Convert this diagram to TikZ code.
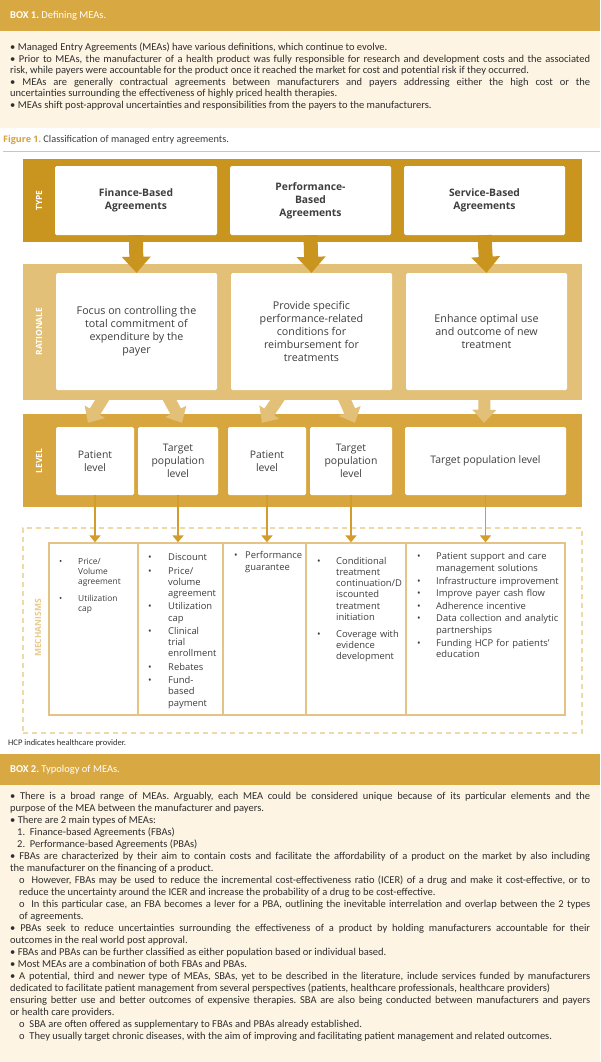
\documentclass[tikz,border=0pt]{standalone}
\usepackage{fontspec}
\setmainfont{Carlito}
\newfontfamily\figfont{Open Sans}
\usetikzlibrary{arrows.meta,calc}
\definecolor{hdr}{HTML}{D8A843}
\definecolor{cream}{HTML}{FDF4E3}
\definecolor{typegold}{HTML}{C9951F}
\definecolor{ratgold}{HTML}{E2C077}
\definecolor{levgold}{HTML}{D8A63F}
\definecolor{levarrow}{HTML}{D39C2C}
\definecolor{dashcol}{HTML}{EFD9A7}
\definecolor{tabcol}{HTML}{E3C486}
\definecolor{mechlab}{HTML}{E8CB8E}
\definecolor{figtext}{HTML}{3E3E3E}
\definecolor{boxtext}{HTML}{2E2E2E}
\definecolor{rulecol}{HTML}{E6C37F}
\definecolor{figgold}{HTML}{D9A23A}
% #1 colour, #2 start, #3 tip, #4 shaft half width, #5 head half width, #6 head length
\newcommand\blockarrow[6]{%
  \coordinate (ba-h) at ($(#3)!#6!(#2)$);
  \fill[#1] ($(#2)!#4!90:(#3)$) -- ($(ba-h)!#4!90:(#3)$) -- ($(ba-h)!#5!90:(#3)$) -- (#3)
    -- ($(ba-h)!#5!-90:(#3)$) -- ($(ba-h)!#4!-90:(#3)$) -- ($(#2)!#4!-90:(#3)$) -- cycle;}
\newcommand\mitem[2]{\par\hangindent=#1\hangafter=1\noindent\makebox[#1][l]{\textbullet}#2\par}
\newcommand\boxfont{\fontsize{10.5}{11.5}\selectfont}
\newcommand\boxfontb{\fontsize{10.5}{12}\selectfont}
\begin{document}
\frenchspacing
\begin{tikzpicture}[x=1pt,y=-1pt,
  band/.style={inner sep=0, anchor=north west, outer sep=0},
  wbox/.style={fill=white, rounded corners=1.5pt, inner sep=1pt, align=center, text=figtext},
  typetext/.style={font=\figfont\bfseries\fontsize{10.3}{12.8}\selectfont},
  rattext/.style={font=\figfont\fontsize{10.7}{13}\selectfont},
  levtext/.style={font=\figfont\fontsize{10.4}{13.2}\selectfont},
  vlabel/.style={rotate=90, inner sep=0, font=\figfont\bfseries\fontsize{8.5}{10}\selectfont, text=white},
  tabcell/.style={draw=tabcol, line width=1.3pt, inner sep=0, minimum height=172pt},
  mtext/.style={anchor=north west, inner sep=0, text width=160pt, align=left, text=figtext},
  levarr/.style={draw=levarrow, line width=1.7pt, -{Triangle[width=11pt,length=7pt]}},
  hdrtext/.style={anchor=west, inner sep=0, text=white, font=\boxfont},
  bodytext/.style={anchor=north west, inner sep=0, text width=580pt, align=justify, text=boxtext}
]
\useasboundingbox (0,0) rectangle (600,1062);
\fill[white] (0,0) rectangle (600,1062);

% ---------- BOX 1 ----------
\node[band, fill=hdr, minimum width=600pt, minimum height=31pt] (b1head) at (0,0) {};
\node[band, fill=cream, minimum width=600pt, minimum height=97pt] (b1body) at (0,31) {};
\node[hdrtext] (b1title) at (10,15.5) {\textbf{BOX 1.} Defining MEAs.};
\node[bodytext, font=\boxfont] (b1text) at (10,43) {%
\textbullet\ Managed Entry Agreements (MEAs) have various definitions, which continue to evolve.\par
\textbullet\ Prior to MEAs, the manufacturer of a health product was fully responsible for research and development costs and the associated\linebreak
risk, while payers were accountable for the product once it reached the market for cost and potential risk if they occurred.\par
\textbullet\ MEAs are generally contractual agreements between manufacturers and payers addressing either the high cost or the\linebreak
uncertainties surrounding the effectiveness of highly priced health therapies.\par
\textbullet\ MEAs shift post-approval uncertainties and responsibilities from the payers to the manufacturers.};

% ---------- Figure caption ----------
\node[anchor=west, inner sep=0, text=figtext, font=\fontsize{10.3}{12}\selectfont] (caption) at (3,140)
  {{\figfont\bfseries\fontsize{9}{10}\selectfont\color{figgold}Figure 1.}\ Classification of managed entry agreements.};
\draw[rulecol, line width=1pt] (3,151) -- (600,151);

% ---------- TYPE ----------
\node[band, fill=typegold, minimum width=559pt, minimum height=83pt] (typepanel) at (23,159) {};
\node[vlabel] (typelab) at (39,200.5) {TYPE};
\node[wbox, typetext, minimum width=162pt, minimum height=69pt] (fba) at (136,200.5) {Finance-Based\\Agreements};
\node[wbox, typetext, minimum width=161pt, minimum height=69pt] (pba) at (310.5,200.5) {Performance-\\Based\\Agreements};
\node[wbox, typetext, minimum width=161pt, minimum height=69pt] (sba) at (484.5,200.5) {Service-Based\\Agreements};

% ---------- RATIONALE ----------
\node[band, fill=ratgold, minimum width=559pt, minimum height=136pt] (ratpanel) at (23,264) {};
\node[vlabel] (ratlab) at (39,331.5) {RATIONALE};
\node[wbox, rattext, minimum width=161pt, minimum height=117pt] (rfba) at (136.5,331.5)
  {Focus on controlling the\\total commitment of\\expenditure by the\\payer};
\node[wbox, rattext, minimum width=161pt, minimum height=117pt] (rpba) at (311.5,331.5)
  {Provide specific\\performance-related\\conditions for\\reimbursement for\\treatments};
\node[wbox, rattext, minimum width=161pt, minimum height=117pt] (rsba) at (486.5,331.5)
  {Enhance optimal use\\and outcome of new\\treatment};

% ---------- LEVEL ----------
\node[band, fill=levgold, minimum width=559pt, minimum height=93pt] (levpanel) at (23,414) {};
\node[vlabel] (levlab) at (39,461) {LEVEL};
\node[wbox, levtext, minimum width=78pt, minimum height=68pt] (lp1) at (95,461) {Patient\\level};
\node[wbox, levtext, minimum width=80pt, minimum height=68pt] (lt1) at (178,461) {Target\\population\\level};
\node[wbox, levtext, minimum width=78pt, minimum height=68pt] (lp2) at (267,461) {Patient\\level};
\node[wbox, levtext, minimum width=82pt, minimum height=68pt] (lt2) at (351,461) {Target\\population\\level};
\node[wbox, levtext, minimum width=161pt, minimum height=68pt] (lt3) at (485.5,461) {Target population level};

% ---------- MECHANISMS ----------
\node[draw=dashcol, dash pattern=on 5pt off 4pt, line width=1.3pt, inner sep=0,
  minimum width=559pt, minimum height=205pt] (mechpanel) at (302.5,630.5) {};
\node[vlabel, text=mechlab] (mechlab) at (38,628) {MECHANISMS};
\node[tabcell, minimum width=89pt] (m1) at (93.5,629) {};
\node[tabcell, minimum width=85pt] (m2) at (180.5,629) {};
\node[tabcell, minimum width=83pt] (m3) at (264.5,629) {};
\node[tabcell, minimum width=100pt] (m4) at (356,629) {};
\node[tabcell, minimum width=159pt] (m5) at (485.5,629) {};

\node[mtext, font=\figfont\fontsize{8.4}{10}\selectfont] (m1t) at (59,548) {\setlength{\parskip}{6.5pt}%
\mitem{19pt}{Price/\newline Volume\newline agreement}%
\mitem{19pt}{Utilization\newline cap}};
\node[mtext, font=\figfont\fontsize{9.4}{11.2}\selectfont] (m2t) at (148,547) {\setlength{\parskip}{2.2pt}%
\mitem{20pt}{Discount}%
\mitem{20pt}{Price/\newline volume\newline agreement}%
\mitem{20pt}{Utilization\newline cap}%
\mitem{20pt}{Clinical\newline trial\newline enrollment}%
\mitem{20pt}{Rebates}%
\mitem{20pt}{Fund-\newline based\newline payment}};
\node[mtext, font=\figfont\fontsize{9.4}{11.5}\selectfont] (m3t) at (234,547) {%
\mitem{11pt}{Performance\newline guarantee}};
\node[mtext, font=\figfont\fontsize{9.4}{11.3}\selectfont] (m4t) at (317,547) {\setlength{\parskip}{5.5pt}%
\mitem{19pt}{Conditional\newline treatment\newline continuation/D\newline iscounted\newline treatment\newline initiation}%
\mitem{19pt}{Coverage with\newline evidence\newline development}};
\node[mtext, font=\figfont\fontsize{9.4}{11.6}\selectfont] (m5t) at (417,547) {\setlength{\parskip}{1pt}%
\mitem{19pt}{Patient support and care\newline management solutions}%
\mitem{19pt}{Infrastructure improvement}%
\mitem{19pt}{Improve payer cash flow}%
\mitem{19pt}{Adherence incentive}%
\mitem{19pt}{Data collection and analytic\newline partnerships}%
\mitem{19pt}{Funding HCP for patients’\newline education}};

% ---------- connectors ----------
\blockarrow{typegold}{fba.south}{rfba.north}{7pt}{14.5pt}{16pt}
\blockarrow{typegold}{pba.south}{rpba.north}{7pt}{14.5pt}{16pt}
\blockarrow{typegold}{sba.south}{rsba.north}{7pt}{14.5pt}{16pt}

\coordinate (ra1s) at ($(rfba.south)+(-32,6)$);
\coordinate (ra2s) at ($(rfba.south)+(31,6)$);
\coordinate (ra3s) at ($(rpba.south)+(-31.5,6)$);
\coordinate (ra4s) at ($(rpba.south)+(31.5,6)$);
\coordinate (ra5s) at ($(rsba.south)+(-2,6)$);
\coordinate (ra1e) at ($(lp1.north)+(-7,-4)$);
\coordinate (ra2e) at ($(lt1.north)+(4,-4)$);
\coordinate (ra3e) at ($(lp2.north)+(-5,-4)$);
\coordinate (ra4e) at ($(lt2.north)+(4,-4)$);
\coordinate (ra5e) at ($(lt3.north)+(-1.5,-4)$);
\blockarrow{ratgold}{ra1s}{ra1e}{6pt}{12pt}{13pt}
\blockarrow{ratgold}{ra2s}{ra2e}{6pt}{12pt}{13pt}
\blockarrow{ratgold}{ra3s}{ra3e}{6pt}{12pt}{13pt}
\blockarrow{ratgold}{ra4s}{ra4e}{6pt}{12pt}{13pt}
\blockarrow{ratgold}{ra5s}{ra5e}{6pt}{12pt}{13pt}

\draw[levarr] (lp1.south) -- (lp1.south |- m1.north);
\draw[levarr] (lt1.south) -- (lt1.south |- m2.north);
\draw[levarr] (lp2.south) -- (lp2.south |- m3.north);
\draw[levarr] (lt2.south) -- (lt2.south |- m4.north);
\draw[levarr] (lt3.south) -- (lt3.south |- m5.north);

\node[anchor=west, inner sep=0, text=boxtext, font=\fontsize{8.5}{10}\selectfont] (hcp) at (8,743) {HCP indicates healthcare provider.};

% ---------- BOX 2 ----------
\node[band, fill=hdr, minimum width=600pt, minimum height=31pt] (b2head) at (0,754) {};
\node[band, fill=cream, minimum width=600pt, minimum height=277pt] (b2body) at (0,785) {};
\node[hdrtext] (b2title) at (10,769.5) {\textbf{BOX 2.} Typology of MEAs.};
\node[bodytext, font=\boxfontb] (b2text) at (10,792) {%
\textbullet\ There is a broad range of MEAs. Arguably, each MEA could be considered unique because of its particular elements and the\linebreak
purpose of the MEA between the manufacturer and payers.\par
\textbullet\ There are 2 main types of MEAs:\par
\hspace*{7pt}1.\ \ Finance-based Agreements (FBAs)\par
\hspace*{7pt}2.\ \ Performance-based Agreements (PBAs)\par
\textbullet\ FBAs are characterized by their aim to contain costs and facilitate the affordability of a product on the market by also including\linebreak
the manufacturer on the financing of a product.\par
{\leftskip=9pt o\ \ However, FBAs may be used to reduce the incremental cost-effectiveness ratio (ICER) of a drug and make it cost-effective, or to\linebreak
reduce the uncertainty around the ICER and increase the probability of a drug to be cost-effective.\par}
{\leftskip=9pt o\ \ In this particular case, an FBA becomes a lever for a PBA, outlining the inevitable interrelation and overlap between the 2 types\linebreak
of agreements.\par}
\textbullet\ PBAs seek to reduce uncertainties surrounding the effectiveness of a product by holding manufacturers accountable for their\linebreak
outcomes in the real world post approval.\par
\textbullet\ FBAs and PBAs can be further classified as either population based or individual based.\par
\textbullet\ Most MEAs are a combination of both FBAs and PBAs.\par
\textbullet\ A potential, third and newer type of MEAs, SBAs, yet to be described in the literature, include services funded by manufacturers\linebreak
dedicated to facilitate patient management from several perspectives (patients, healthcare professionals, healthcare providers)\newline
ensuring better use and better outcomes of expensive therapies. SBA are also being conducted between manufacturers and payers\linebreak
or health care providers.\par
{\leftskip=9pt o\ \ SBA are often offered as supplementary to FBAs and PBAs already established.\par}
{\leftskip=9pt o\ \ They usually target chronic diseases, with the aim of improving and facilitating patient management and related outcomes.\par}};
\end{tikzpicture}
\end{document}
